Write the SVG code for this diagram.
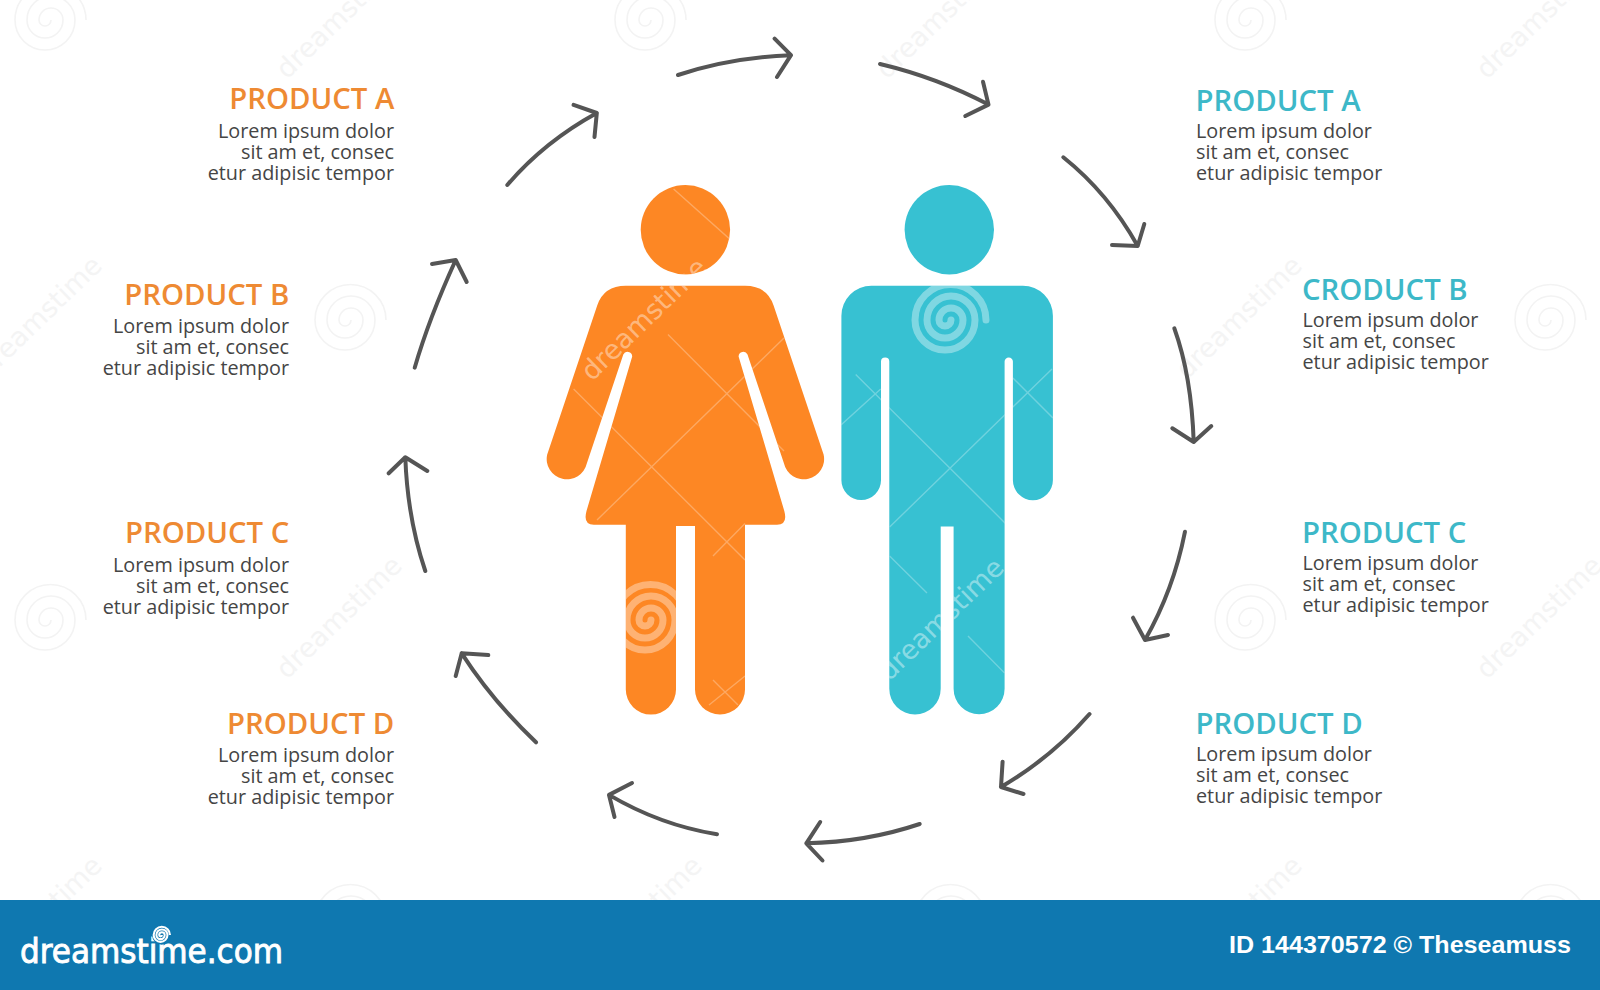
<svg xmlns="http://www.w3.org/2000/svg" width="1600" height="990" viewBox="0 0 1600 990">
<style>
.h{font:600 29.3px "Open Sans","Noto Sans",sans-serif}
.b{font:400 19.8px "Open Sans","Noto Sans",sans-serif;fill:#454545}
.o{fill:#EE8A33}.t{fill:#3DB8C8}
.r{text-anchor:end}
.fo{fill:#FD8724}.ft{fill:#37C1D2}
.arrow{fill:none;stroke:#555;stroke-width:4;stroke-linecap:round;stroke-linejoin:round}
.sp-bg{fill:none;stroke:#f3f3f3;stroke-width:1.6}
.sp-fg{fill:none;stroke:#fff;stroke-opacity:.36;stroke-width:7;stroke-linecap:round}
.wm{font:400 27px "DejaVu Sans",sans-serif}
.wm-bg{fill:#f4f4f4}.wm-fg{fill:#fff;fill-opacity:.42}
.ln{stroke:#fff;stroke-opacity:.28;stroke-width:1.4;fill:none}
.fl{font:700 24.5px "Liberation Sans",Arial,sans-serif;fill:#fff}
</style>
<defs>
<path id="spiral" d="M1 0A6 6 0 0 1-11 0A12 12 0 0 1 13 0A18 18 0 0 1-23 0A24 24 0 0 1 25 0A30 30 0 0 1-35 0A35.5 35.5 0 0 1 36 0"/>
<path id="woman-body" d="M625.8 285.8H745Q767 285.8 773.6 305.5L823.6 454.5A20.3 20.3 0 0 1 784 463.6L747.5 354.5A4.7 4.7 0 0 0 738.6 356.4L784.3 511Q788 524.7 777 524.7H745V689.5A25 25 0 0 1 695 689.5V526H676V689.5A25 25 0 0 1 625.8 689.5V524.7H593.8Q582.8 524.7 586.5 511L632.2 356.4A4.7 4.7 0 0 0 623.3 354.5L586.8 463.6A20.3 20.3 0 0 1 547.2 454.5L597.2 305.5Q603.8 285.8 625.8 285.8Z"/>
<path id="man-body" d="M871.4 285.8H1022.9A30 30 0 0 1 1052.9 315.8V480.2A20 20 0 0 1 1012.9 480.2V361.6A4.15 4.15 0 0 0 1004.6 361.6V688.8A25.5 25.5 0 0 1 953.6 688.8V526.5H940.7V688.8A25.7 25.7 0 0 1 889.3 688.8V361.6A4.15 4.15 0 0 0 881 361.6V480.2A19.8 19.8 0 0 1 841.4 480.2V315.8A30 30 0 0 1 871.4 285.8Z"/>
<clipPath id="clip-woman"><use href="#woman-body"/><circle cx="685.4" cy="229.8" r="44.7"/></clipPath>
<clipPath id="clip-man"><use href="#man-body"/><circle cx="949.3" cy="229.8" r="44.7"/></clipPath>
</defs>
<rect width="1600" height="990" fill="#fff"/>
<g id="watermark-back">
<use href="#spiral" class="sp-bg" x="50" y="20"/><use href="#spiral" class="sp-bg" x="650" y="20"/><use href="#spiral" class="sp-bg" x="1250" y="20"/>
<use href="#spiral" class="sp-bg" x="350" y="320"/><use href="#spiral" class="sp-bg" x="1550" y="320"/>
<use href="#spiral" class="sp-bg" x="50" y="620"/><use href="#spiral" class="sp-bg" x="1250" y="620"/>
<use href="#spiral" class="sp-bg" x="350" y="920"/><use href="#spiral" class="sp-bg" x="950" y="920"/><use href="#spiral" class="sp-bg" x="1550" y="920"/>
<g class="wm wm-bg">
<text transform="translate(287 80) rotate(-44)">dreamstime</text><text transform="translate(887 80) rotate(-44)">dreamstime</text><text transform="translate(1487 80) rotate(-44)">dreamstime</text>
<text transform="translate(-13 380) rotate(-44)">dreamstime</text><text transform="translate(1187 380) rotate(-44)">dreamstime</text>
<text transform="translate(287 680) rotate(-44)">dreamstime</text><text transform="translate(1487 680) rotate(-44)">dreamstime</text>
<text transform="translate(587 980) rotate(-44)">dreamstime</text><text transform="translate(1187 980) rotate(-44)">dreamstime</text><text transform="translate(-13 980) rotate(-44)">dreamstime</text>
</g>
</g>
<g id="woman">
<circle class="fo" cx="685.4" cy="229.8" r="44.7"/>
<use href="#woman-body" class="fo"/>
<g clip-path="url(#clip-woman)">
<use href="#spiral" class="sp-fg" x="650" y="620"/>
<text class="wm wm-fg" transform="translate(592 382) rotate(-44)">dreamstime</text>
<path class="ln" d="M573.6 389L745 560M668 334.5L784 451M597 520L784 338M673.6 189L730.7 240M713 556L745 523.6M713 680L738 705M709 705L745 676"/>
</g>
</g>
<g id="man">
<circle class="ft" cx="949.3" cy="229.8" r="44.7"/>
<use href="#man-body" class="ft"/>
<g clip-path="url(#clip-man)">
<use href="#spiral" class="sp-fg" x="950" y="320"/>
<text class="wm wm-fg" transform="translate(889 682) rotate(-44)">dreamstime</text>
<path class="ln" d="M855.7 374.5L1005.7 523.6M889.6 527L1052 369M889.6 556L927 593M1012.9 378L1052.9 418M968 636L1004.6 673M841 425L880.7 389"/>
</g>
</g>
<g id="connectors">
<path class="arrow" d="M507.3 185Q544 142 596.8 113M573.6 104.9L596.8 113L594.5 137"/>
<path class="arrow" d="M678 75Q731 57.5 791 55.2M774.6 38.6L791 55.2L777 77"/>
<path class="arrow" d="M880 64Q937 77.5 988.5 104.6M983 81.7L988.5 104.6L965.3 116"/>
<path class="arrow" d="M1063.3 157.3Q1108 193 1137.7 246M1112 245L1137.7 246L1144.3 224"/>
<path class="arrow" d="M1174.3 328.3Q1191.5 376 1193.7 442M1172.3 428.3L1193.7 442L1211.3 426"/>
<path class="arrow" d="M1185 531.7Q1173.5 590 1145 640M1133 617.7L1145 640L1168 635"/>
<path class="arrow" d="M1089.5 714Q1051.5 757.5 1001 787M1002.6 761.7L1001 787L1023.5 794"/>
<path class="arrow" d="M919.7 824Q866.5 842 806.3 843.3M820.2 822L806.3 843.3L822.5 860.5"/>
<path class="arrow" d="M717 834.3Q660 825 609 794.9M632 783L609 794.9L614.5 817"/>
<path class="arrow" d="M536 742.3Q492.5 701 461.7 653.3M488.3 655L461.7 653.3L455.7 676"/>
<path class="arrow" d="M425.3 571Q407.5 518.5 405.3 457.3M388.7 473.3L405.3 457.3L427.3 471"/>
<path class="arrow" d="M414.7 367.7Q429 318.5 455.7 260M432 264L455.7 260L466.7 282"/>
</g>
<g id="left-a"><text class="h o r" x="394.3" y="109.3">PRODUCT A</text><text class="b r" x="394" y="137.7">Lorem ipsum dolor</text><text class="b r" x="394" y="158.7">sit am et, consec</text><text class="b r" x="394" y="179.7">etur adipisic tempor</text></g>
<g id="left-b"><text class="h o r" x="289.3" y="305">PRODUCT B</text><text class="b r" x="289" y="333.3">Lorem ipsum dolor</text><text class="b r" x="289" y="354.3">sit am et, consec</text><text class="b r" x="289" y="375.3">etur adipisic tempor</text></g>
<g id="left-c"><text class="h o r" x="289.3" y="543.4">PRODUCT C</text><text class="b r" x="289" y="571.7">Lorem ipsum dolor</text><text class="b r" x="289" y="592.7">sit am et, consec</text><text class="b r" x="289" y="613.7">etur adipisic tempor</text></g>
<g id="left-d"><text class="h o r" x="394.3" y="734">PRODUCT D</text><text class="b r" x="394" y="762.3">Lorem ipsum dolor</text><text class="b r" x="394" y="783.3">sit am et, consec</text><text class="b r" x="394" y="804.3">etur adipisic tempor</text></g>
<g id="right-a"><text class="h t" x="1195.5" y="110.7">PRODUCT A</text><text class="b" x="1196" y="138.3">Lorem ipsum dolor</text><text class="b" x="1196" y="159.3">sit am et, consec</text><text class="b" x="1196" y="180.3">etur adipisic tempor</text></g>
<g id="right-b"><text class="h t" x="1302" y="300">CRODUCT B</text><text class="b" x="1302.5" y="327">Lorem ipsum dolor</text><text class="b" x="1302.5" y="348">sit am et, consec</text><text class="b" x="1302.5" y="369">etur adipisic tempor</text></g>
<g id="right-c"><text class="h t" x="1302" y="543.3">PRODUCT C</text><text class="b" x="1302.5" y="570">Lorem ipsum dolor</text><text class="b" x="1302.5" y="591">sit am et, consec</text><text class="b" x="1302.5" y="612">etur adipisic tempor</text></g>
<g id="right-d"><text class="h t" x="1195.5" y="734">PRODUCT D</text><text class="b" x="1196" y="760.7">Lorem ipsum dolor</text><text class="b" x="1196" y="781.7">sit am et, consec</text><text class="b" x="1196" y="802.7">etur adipisic tempor</text></g>
<g id="footer">
<rect y="900" width="1600" height="90" fill="#0F78B0"/>
<text x="20" y="963.3" font-family="'DejaVu Sans',sans-serif" font-size="33" fill="#fff" stroke="#fff" stroke-width=".9" textLength="263" lengthAdjust="spacingAndGlyphs">dreamstime.com</text>
<g transform="translate(161.7 935) scale(.23)"><circle r="42" fill="#0F78B0"/><use href="#spiral" fill="none" stroke="#fff" stroke-width="9"/></g>
<text class="fl" x="1229" y="952.7" textLength="342" lengthAdjust="spacingAndGlyphs">ID 144370572 © Theseamuss</text>
</g>
</svg>
